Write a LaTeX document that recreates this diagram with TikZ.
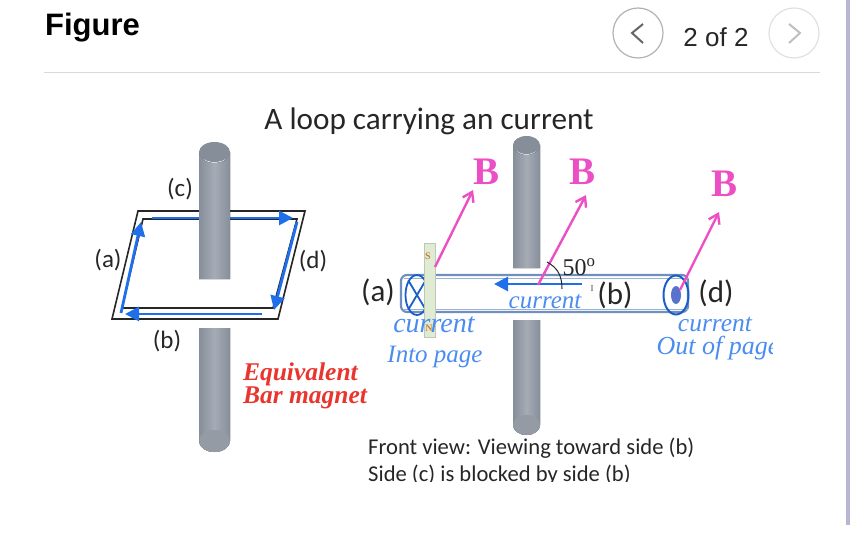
\documentclass[tikz,border=0pt]{standalone}
\usepackage{fontspec}
\setmainfont{Liberation Serif}
\newfontfamily\headfont{Liberation Sans}
\newfontfamily\bodyfont{Carlito}
\usepackage{tikz}
\usetikzlibrary{positioning, arrows.meta, shapes.geometric}
\definecolor{loopblue}{HTML}{1F6FEB}
\definecolor{labelblue}{HTML}{4A8CF0}
\definecolor{steelloop}{HTML}{6F8FBF}
\definecolor{fieldpink}{HTML}{EC4FC4}
\definecolor{magnetgray}{HTML}{868E9A}
\definecolor{magnetlight}{HTML}{A5ACB6}
\definecolor{stripgreen}{HTML}{DFEBD3}
\definecolor{magnetred}{HTML}{E8352E}

\begin{document}
\begin{tikzpicture}[x=1pt, y=-1pt,
    magnetbody/.style={left color=magnetgray, right color=magnetgray, middle color=magnetlight, draw=none},
    magnetcap/.style={fill=magnetgray, draw=none},
    heading/.style={inner sep=0pt, font=\fontsize{31}{34}\headfont\bfseries},
    plain/.style={inner sep=0pt, font=\fontsize{25}{28}\bodyfont, text=black!85},
    frontlabel/.style={inner sep=0pt, font=\fontsize{31}{34}\bodyfont, text=black!85},
    field/.style={inner sep=0pt, text=fieldpink, font=\fontsize{39}{40}\selectfont\bfseries},
    fieldline/.style={-{Straight Barb[length=9pt,width=12pt]}, fieldpink, line width=2.4pt},
    note/.style={inner sep=0pt, text=labelblue, font=\fontsize{25}{27}\selectfont\itshape},
    flow/.style={-{Triangle[length=14pt,width=14pt]}, loopblue, line width=2.8pt},
    navring/.style={circle, draw, minimum size=50pt, line width=1.2pt}]
  \useasboundingbox (0,0) rectangle (850,540);

  % page furniture
  \fill[blue!25!gray!45] (846,0) rectangle (850,525);
  \node[heading] (title) at (92.5,28) {Figure};
  \node[navring, draw=black!30] (prev) at (638,33) {};
  \node[navring, draw=black!12] (next) at (794,33) {};
  \node[inner sep=0pt, font=\fontsize{26}{28}\headfont, text=black!85] (count) at (716,37) {2 of 2};
  \draw[line width=2pt, black!60] (643,24) -- (632,33) -- (643,43);
  \draw[line width=2pt, black!25] (789,24) -- (800,33) -- (789,43);
  \draw[line width=1.2pt, black!15] (44,72.5) -- (820,72.5);

  \node[inner sep=0pt, font=\fontsize{31.2}{33}\bodyfont, text=black!85] (heading) at (429,121) {A loop carrying an current};

  % side (b) of the loop, left view
  \coordinate (outa) at (138,211);
  \coordinate (outb) at (305,211);
  \coordinate (outc) at (278,319);
  \coordinate (outd) at (112,319);
  \coordinate (ina) at (143,219);
  \coordinate (inb) at (297,219);
  \coordinate (inc) at (273,308);
  \coordinate (ind) at (122,308);
  \draw[line width=1.6pt, black!85] (outa) -- (outb) -- (outc) -- (outd) -- cycle;
  \draw[line width=1.6pt, black!85] (ina) -- (inb) -- (inc) -- (ind) -- cycle;

  \coordinate (ftop) at (152,218);
  \coordinate (ftopend) at (293,218);
  \coordinate (fright) at (297,222);
  \coordinate (frightend) at (274,310);
  \coordinate (fbot) at (262,314);
  \coordinate (fbotend) at (125,314);
  \coordinate (fleft) at (121,313);
  \coordinate (fleftend) at (141,222);
  \draw[flow] (ftop) -- (ftopend);
  \draw[flow] (fright) -- (frightend);
  \draw[flow] (fbot) -- (fbotend);
  \draw[flow] (fleft) -- (fleftend);

  % left magnet
  \fill[magnetbody] (199,152) arc[start angle=180, end angle=0, x radius=15.5, y radius=11] -- (230,279) -- (199,279) -- cycle;
  \fill[magnetcap] (214.5,152) ellipse[x radius=15.5, y radius=10];
  \fill[magnetbody] (199,328) -- (230,328) -- (230,441) arc[start angle=0, end angle=-180, x radius=15.5, y radius=-11] -- cycle;
  \fill[magnetlight!90!black] (214.5,441) ellipse[x radius=15.5, y radius=11];

  \node[plain] (lc) at (180,189) {(c)};
  \node[plain] (la) at (108,260) {(a)};
  \node[plain] (ld) at (313,261) {(d)};
  \node[plain] (lb) at (167,341) {(b)};
  \node[inner sep=0pt, align=left, text=magnetred, font=\fontsize{25.5}{22.5}\selectfont\bfseries\itshape] (equiv) at (305,386) {Equivalent\\Bar magnet};

  % right magnet
  \fill[magnetbody] (513,145) arc[start angle=180, end angle=0, x radius=13.5, y radius=10] -- (540,268) -- (513,268) -- cycle;
  \fill[magnetcap] (526.5,145) ellipse[x radius=13.5, y radius=9];
  \fill[magnetbody] (513,320) -- (540,320) -- (540,425) arc[start angle=0, end angle=-180, x radius=13.5, y radius=-10] -- cycle;
  \fill[magnetlight!90!black] (526.5,425) ellipse[x radius=13.5, y radius=10];

  % front view
  \draw[steelloop, line width=2.2pt, rounded corners=6pt] (401,275) rectangle (688,312);
  \draw[steelloop!70, line width=1pt] (404,278.5) -- (688,278.5);
  \draw[steelloop!70, line width=1pt] (404,309) -- (688,309);
  \node[ellipse, draw=loopblue!85!black, line width=1.8pt, minimum width=23pt, minimum height=40pt, inner sep=0pt] (sidea) at (417,295) {};
  \draw[loopblue!85!black, line width=1.8pt] (sidea.north west) -- (sidea.south east);
  \draw[loopblue!85!black, line width=1.8pt] (sidea.north east) -- (sidea.south west);
  \node[rectangle, fill=stripgreen, draw=stripgreen!85!black, line width=.5pt, minimum width=11pt, minimum height=94pt, inner sep=0pt] (needle) at (429.5,290) {};
  \node[inner sep=0pt, text=brown!80!orange, font=\fontsize{10}{10}\selectfont\bfseries] (south) at (428,256) {S};
  \node[ellipse, draw=loopblue!85!black, line width=2pt, minimum width=25pt, minimum height=39pt, inner sep=0pt] (sided) at (676,295) {};
  \node[ellipse, fill=steelloop!80!blue, minimum width=10pt, minimum height=18pt, inner sep=0pt] (dot) at (676,295) {};

  \node[frontlabel] (fa) at (378,292) {(a)};
  \node[frontlabel] (fb) at (615,295) {(b)};
  \node[frontlabel] (fd) at (716,293) {(d)};
  \node[inner sep=0pt, font=\fontsize{9}{9}\selectfont, text=black!70] (tick) at (592,289) {I};

  \coordinate (fstart) at (582,284);
  \coordinate (fend) at (494,284);
  \draw[flow] (fstart) -- (fend);

  \node[field] (ba) at (486,172) {B};
  \node[field] (bb) at (582,172) {B};
  \node[field] (bd) at (724,184) {B};
  \coordinate (sa) at (435,267);
  \coordinate (sb) at (538,285);
  \coordinate (sd) at (680,290);
  \draw[fieldline] (sa) -- (473,190);
  \draw[fieldline] (sb) -- (586,195);
  \draw[fieldline] (sd) -- (719,212);

  \draw[black!85, line width=1pt] (547,262) .. controls (558,268) and (562,276) .. (562,289);
  \node[inner sep=0pt, font=\fontsize{24}{26}\selectfont, text=black!85] (angle) at (579,267) {50\textsuperscript{o}};

  \node[note] (cmid) at (545,302) {current};
  \node[note, font=\fontsize{28}{30}\selectfont\itshape] (cinto) at (434,325) {current};
  \node[inner sep=0pt, text=brown!80!orange, font=\fontsize{10}{10}\selectfont\bfseries] (north) at (429,328) {N};
  \node[note] (into) at (435,357) {Into page};
  \node[note, font=\fontsize{25.5}{27}\selectfont\itshape] (cout) at (715,324) {current};
  \begin{scope}
    \clip (640,332) rectangle (772,367);
    \node[note, font=\fontsize{26}{28}\selectfont\itshape] (out) at (718,348) {Out of page};
  \end{scope}

  \begin{scope}
    \clip (360,430) rectangle (720,481.5);
    \node[plain, anchor=north west, align=left, font=\fontsize{22.6}{26.5}\bodyfont] (caption) at (368,438) {Front view: Viewing toward side (b)\\Side (c) is blocked by side (b)};
  \end{scope}
\end{tikzpicture}
\end{document}
